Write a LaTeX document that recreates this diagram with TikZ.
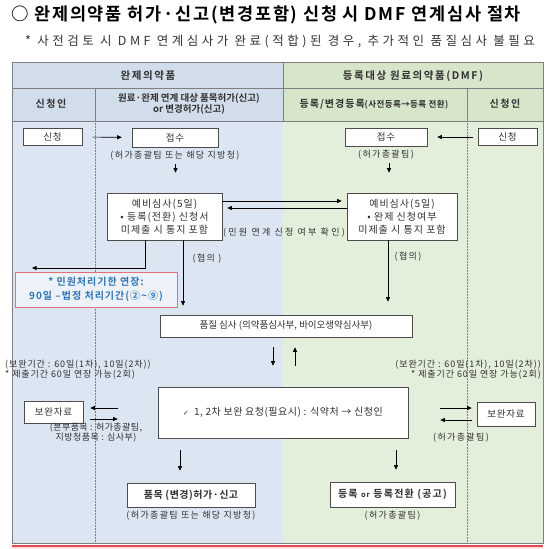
\documentclass[tikz,border=0pt]{standalone}
\usepackage{fontspec}
\setmainfont{Noto Sans CJK KR}[BoldFont={* Bold}]
\newfontfamily\symfont{DejaVu Sans}
\newcommand\lsp[1]{\addfontfeatures{LetterSpace=#1}}
\usetikzlibrary{arrows.meta, positioning, calc}
\definecolor{dmblue}{HTML}{DCE6F2}
\definecolor{dmbluehd}{HTML}{D2DDEB}
\definecolor{dmgreen}{HTML}{E3EFDA}
\definecolor{dmgreenhd}{HTML}{D7E6CA}
\definecolor{dmline}{HTML}{7F7F7F}
\definecolor{dmtext}{HTML}{303030}
\definecolor{dmred}{HTML}{E04A52}
\definecolor{dmnote}{HTML}{2E75B6}

\begin{document}
\begin{tikzpicture}[x=1pt, y=-1pt,
    proc/.style={rectangle, draw=black!70, fill=white, line width=0.6pt,
                 inner sep=1pt, align=center, text=dmtext,
                 font=\fontsize{9.5}{12}\selectfont\lsp{8}},
    capt/.style={inner sep=0pt, align=center, text=dmtext,
                 font=\fontsize{9}{10}\selectfont\lsp{15}},
    head/.style={inner sep=0pt, align=center, text=dmtext,
                 font=\fontsize{10.5}{12}\selectfont\bfseries\lsp{15}},
    arrow/.style={-{Triangle[length=4.5pt, width=4pt]}, line width=0.6pt, black}
  ]
    \useasboundingbox (0,0) rectangle (550,549);

    % title
    \node[anchor=west, inner sep=0pt, font=\fontsize{17.5}{19}\selectfont\bfseries\lsp{10}] (title) at (11,15)
      {○ 완제의약품 허가·신고(변경포함) 신청 시 DMF 연계심사 절차};
    \node[anchor=west, inner sep=0pt, font=\fontsize{12.5}{14}\selectfont\lsp{28}, text=black!80] (note) at (25,42)
      {* 사전검토 시 DMF 연계심사가 완료(적합)된 경우, 추가적인 품질심사 불필요};

    % table
    \fill[dmblue] (12,62) rectangle (283,543);
    \fill[dmgreen] (283,62) rectangle (543,543);
    \fill[dmbluehd] (12,62) rectangle (283,121);
    \fill[dmgreenhd] (283,62) rectangle (543,121);
    \draw[dmline, line width=0.6pt] (12,88) -- (543,88) (12,121) -- (543,121)
      (283,62) -- (283,121) (95,88) -- (95,121) (467,88) -- (467,121);
    \draw[dmline, line width=0.5pt, densely dotted] (95,121) -- (95,543) (467,121) -- (467,543);
    \draw[dmline, line width=0.8pt] (12,62) rectangle (543,543);
    \fill[red!12] (12,546) rectangle (543,549);
    \draw[dmred, line width=1.2pt] (12,546) -- (543,546);

    \node[head] (hdL) at (148,76) {완제의약품};
    \node[head] (hdR) at (413,76) {등록대상 원료의약품(DMF)};
    \node[head, font=\fontsize{10}{12}\selectfont\bfseries\lsp{15}] (hdApL) at (51,104) {신청인};
    \node[head, font=\fontsize{9.5}{11.5}\selectfont\bfseries] (hdPr) at (189,104)
      {원료·완제 연계 대상 품목허가(신고)\\or 변경허가(신고)};
    \node[head, font=\fontsize{10}{12}\selectfont\bfseries\lsp{10}] (hdReg) at (374,104)
      {등록/변경등록{\fontsize{8.5}{10}\selectfont\lsp{5}(사전등록→등록 전환)}};
    \node[head, font=\fontsize{10}{12}\selectfont\bfseries\lsp{15}] (hdApR) at (505,104) {신청인};

    % first row
    \node[proc, minimum width=59, minimum height=17] (appL) at (52.5,137) {신청};
    \node[proc, minimum width=86, minimum height=19] (recL) at (175,137.5) {접수};
    \node[capt, below=4pt of recL] (recLc) {(허가총괄팀 또는 해당 지방청)};
    \node[proc, minimum width=82, minimum height=18] (recR) at (386,137) {접수};
    \node[capt, below=4pt of recR] (recRc) {(허가총괄팀)};
    \node[proc, minimum width=59, minimum height=17] (appR) at (507.5,137) {신청};

    % pre-review
    \node[proc, minimum width=115, minimum height=47, font=\fontsize{10}{13}\selectfont\lsp{10}] (preL) at (164.5,216.5)
      {예비심사(5일)\\• 등록(전환) 신청서\\미제출 시 통지 포함};
    \node[proc, minimum width=110, minimum height=47, font=\fontsize{10}{13}\selectfont\lsp{10}] (preR) at (402,216.5)
      {예비심사(5일)\\• 완제 신청여부\\미제출 시 통지 포함};
    \node[capt, font=\fontsize{9}{10}\selectfont\lsp{25}] (link) at (284,233) {(민원 연계 신청 여부 확인)};

    % notice
    \node[rectangle, draw=dmred!80, line width=0.7pt, fill=white!50!dmblue,
          minimum width=162, minimum height=35, align=center, text=dmnote,
          font=\fontsize{10}{14}\selectfont\bfseries\lsp{10}] (ext) at (96,289.5)
      {* 민원처리기한 연장:\\90일 –법정 처리기간(②\textasciitilde⑨)};
    \coordinate (extArr) at (32,268);
    \node[capt] (cnsL) at (207,259) {(협의 )};
    \node[capt] (cnsR) at (408,257) {(협의)};

    % quality review
    \node[proc, minimum width=252, minimum height=22, font=\fontsize{9.5}{11}\selectfont] (qual) at (286,326)
      {품질 심사 (의약품심사부, 바이오생약심사부)};

    \node[capt, anchor=north west, align=left, font=\fontsize{9}{9}\selectfont\lsp{10}] (prdL) at (5,360)
      {(보완기간 : 60일(1차), 10일(2차))\\* 제출기간 60일 연장 가능(2회)};
    \node[capt, anchor=north east, align=right, font=\fontsize{9}{9}\selectfont\lsp{10}] (prdR) at (541,360)
      {(보완기간 : 60일(1차), 10일(2차))\\* 제출기간 60일 연장 가능(2회)};

    \node[proc, minimum width=250, minimum height=51, font=\fontsize{10}{12}\selectfont\lsp{5}] (req) at (283,412.5)
      {{\symfont\fontsize{7}{9}\selectfont ✓}\enspace 1, 2차 보완 요청(필요시) : 식약처 → 신청인};
    \node[proc, minimum width=59, minimum height=22] (supL) at (53.5,412) {보완자료};
    \node[capt, font=\fontsize{9}{9.5}\selectfont\lsp{5}] (supLc) at (96,432.5) {(본부품목 : 허가총괄팀,\\지방청품목 : 심사부)};
    \node[proc, minimum width=58, minimum height=24] (supR) at (506,414) {보완자료};
    \node[capt] (supRc) at (461,438) {(허가총괄팀)};

    % results
    \node[proc, minimum width=128, minimum height=24, font=\fontsize{10}{12}\selectfont\bfseries\lsp{5}] (resL) at (191,495)
      {품목 (변경)허가·신고};
    \node[capt, below=4pt of resL] (resLc) {(허가총괄팀 또는 해당 지방청)};
    \node[proc, minimum width=125, minimum height=25, font=\fontsize{10}{12}\selectfont\bfseries\lsp{12}] (resR) at (392.5,494.5)
      {등록 {\fontsize{7.5}{9}\selectfont or} 등록전환 (공고)};
    \node[capt, below=4pt of resR] (resRc) {(허가총괄팀)};

    % connectors
    \draw[arrow, shorten <=10pt, shorten >=10pt] (appL) -- (recL);
    \draw[arrow, shorten <=5pt, shorten >=10pt] (appR) -- (recR);
    \draw[arrow, shorten <=3pt, shorten >=20pt] (recLc.south -| preL.north) ++(11,0) coordinate (a1) -- (a1 |- preL.north);
    \draw[arrow, shorten <=3pt, shorten >=20pt] (recRc.south) ++(3,0) coordinate (a2) -- (a2 |- preR.north);
    \draw[arrow, shorten >=5pt] ([yshift=15.5pt]preL.east) -- ([yshift=15.5pt]preR.west);
    \draw[arrow, shorten >=5pt] ([yshift=8.5pt]preR.west) -- ([yshift=8.5pt]preL.east);
    \draw[arrow] ([xshift=-19.5pt]preL.south) |- (extArr);
    \draw[arrow, shorten >=9pt] ([xshift=18.5pt]preL.south) -- ([xshift=18.5pt]preL.south |- qual.north);
    \draw[arrow, shorten >=13pt] ([xshift=-14pt]preR.south) -- ([xshift=-14pt]preR.south |- qual.north);
    \draw[arrow, shorten <=10pt, shorten >=21pt] ([xshift=-13pt]qual.south) -- ([xshift=-13pt]qual.south |- req.north);
    \draw[arrow, shorten <=21pt, shorten >=10pt] ([xshift=9pt]qual.south |- req.north) -- ([xshift=9pt]qual.south);
    \draw[arrow, shorten <=40pt, shorten >=7pt] ([yshift=4.5pt]req.west) -- ([yshift=4.5pt]req.west -| supL.east);
    \draw[arrow, shorten <=7pt, shorten >=40pt] ([yshift=-6.5pt]req.west -| supL.east) -- ([yshift=-6.5pt]req.west);
    \draw[arrow, shorten <=32pt, shorten >=5pt] ([yshift=6pt]supR.west -| req.east) -- ([yshift=6pt]supR.west);
    \draw[arrow, shorten <=5pt, shorten >=32pt] ([yshift=-6pt]supR.west) -- ([yshift=-6pt]supR.west -| req.east);
    \draw[arrow, shorten <=12pt, shorten >=12pt] ([xshift=-11pt]resL.north |- req.south) -- ([xshift=-11pt]resL.north);
    \draw[arrow, shorten <=12pt, shorten >=12pt] ([xshift=3.5pt]resR.north |- req.south) -- ([xshift=3.5pt]resR.north);
\end{tikzpicture}
\end{document}
